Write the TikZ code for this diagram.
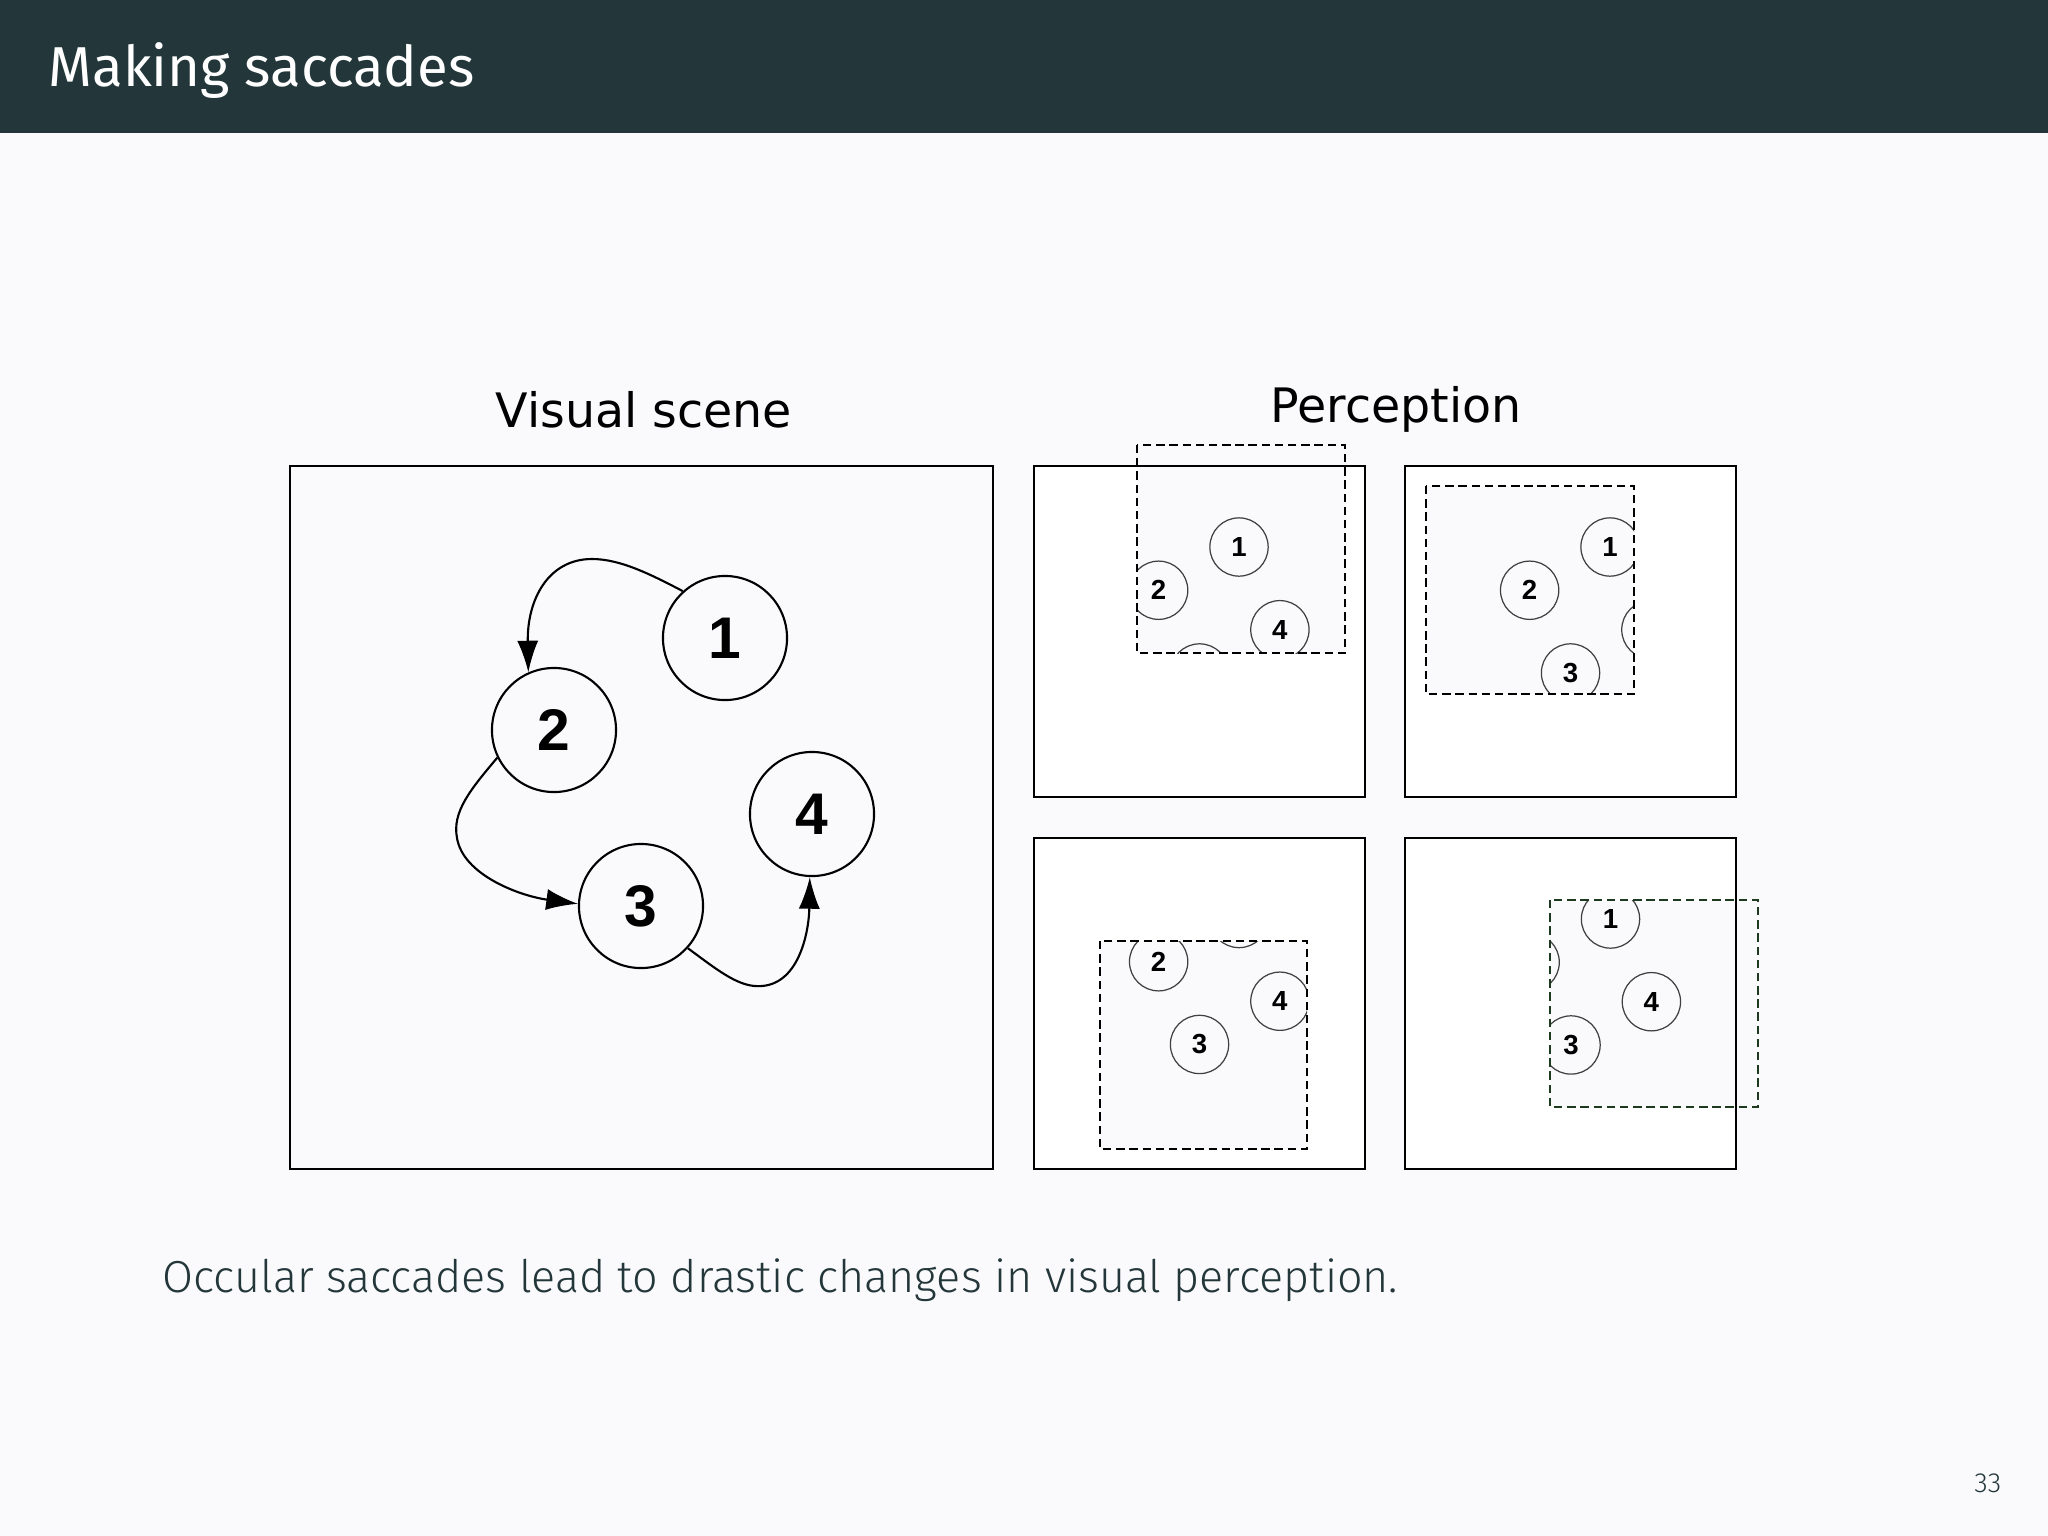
\documentclass[tikz,border=0pt]{standalone}
\usepackage{fontspec}
\usetikzlibrary{arrows.meta}
\newfontfamily\titlefont{Fira Sans}
\newfontfamily\bodyfont{Fira Sans Light}
\newfontfamily\scenefont{DejaVu Sans}
\newfontfamily\digitfont{Liberation Sans}
\definecolor{mDark}{HTML}{23373B}
\definecolor{pagebg}{HTML}{FAF9FC}
\definecolor{wingreen}{HTML}{1E3A1E}
\begin{document}
\begin{tikzpicture}[x=0.01cm,y=-0.01cm,
  frame/.style={draw=black, line width=0.75pt},
  bigcirc/.style={circle, draw=black, line width=0.6pt, minimum size=1.24cm, inner sep=0pt,
    font=\digitfont\bfseries\fontsize{16.7}{16.7}\selectfont},
  smallcirc/.style={circle, draw=black!75, line width=0.35pt, minimum size=1.24cm, inner sep=0pt,
    font=\digitfont\bfseries\fontsize{16.7}{16.7}\selectfont},
  window/.style={draw=black, line width=0.6pt, dash pattern=on 2.4pt off 1.35pt},
  saccade/.style={draw=black, line width=0.6pt, -{Latex[length=9pt,width=6pt]}},
  label/.style={anchor=base, inner sep=0pt, font=\scenefont\fontsize{13.5}{13.5}\selectfont}
]
\fill[pagebg] (0,0) rectangle (2048,1536);
\useasboundingbox (0,0) rectangle (2048,1536);
\fill[mDark] (0,0) rectangle (2048,133);
\node[anchor=base west, text=white, inner sep=0pt, font=\titlefont\fontsize{16.0}{16.0}\selectfont] (title) at (48,86) {Making saccades};

% visual scene
\node[label] (lscene) at (644,427) {Visual scene};
\node[label] (lperc) at (1396,422) {Perception};
\draw[frame] (290,466) rectangle (993,1169);
\node[bigcirc] (c1) at (725,638) {1};
\node[bigcirc] (c2) at (554,730) {2};
\node[bigcirc] (c3) at (641,906) {3};
\node[bigcirc] (c4) at (812,814) {4};
\draw[saccade] (c1.132) .. controls (650,574) and (620,559) .. (592,559)
  .. controls (548,559) and (527,600) .. (c2.114);
\draw[saccade] (c2.206) .. controls (470,790) and (452,812) .. (457,838)
  .. controls (463,875) and (520,896) .. (c3.178);
\draw[saccade] (c3.-42) .. controls (720,972) and (740,988) .. (762,986)
  .. controls (800,983) and (809,930) .. (c4.268);

% panel top-left
\fill[white] (1034,466) rectangle (1365,797);
\begin{scope}
  \clip (1137,445) rectangle (1345,653);
  \fill[pagebg] (1137,445) rectangle (1345,653);
  \begin{scope}[shift={(1239,547)}, scale=0.47, transform shape]
    \node[smallcirc] (tl1) at (0,0) {1};
    \node[smallcirc] (tl2) at (-171,92) {2};
    \node[smallcirc] (tl3) at (-84,268) {3};
    \node[smallcirc] (tl4) at (87,176) {4};
  \end{scope}
\end{scope}
\draw[frame] (1034,466) rectangle (1365,797);
\draw[window] (1137,445) rectangle (1345,653);

% panel top-right
\fill[white] (1405,466) rectangle (1736,797);
\begin{scope}
  \clip (1426,486) rectangle (1634,694);
  \fill[pagebg] (1426,486) rectangle (1634,694);
  \begin{scope}[shift={(1610,547)}, scale=0.47, transform shape]
    \node[smallcirc] (tr1) at (0,0) {1};
    \node[smallcirc] (tr2) at (-171,92) {2};
    \node[smallcirc] (tr3) at (-84,268) {3};
    \node[smallcirc] (tr4) at (87,176) {4};
  \end{scope}
\end{scope}
\draw[frame] (1405,466) rectangle (1736,797);
\draw[window] (1426,486) rectangle (1634,694);

% panel bottom-left
\fill[white] (1034,838) rectangle (1365,1169);
\begin{scope}
  \clip (1100,941) rectangle (1307,1149);
  \fill[pagebg] (1100,941) rectangle (1307,1149);
  \begin{scope}[shift={(1239,918.5)}, scale=0.47, transform shape]
    \node[smallcirc] (bl1) at (0,0) {1};
    \node[smallcirc] (bl2) at (-171,92) {2};
    \node[smallcirc] (bl3) at (-84,268) {3};
    \node[smallcirc] (bl4) at (87,176) {4};
  \end{scope}
\end{scope}
\draw[frame] (1034,838) rectangle (1365,1169);
\draw[window] (1100,941) rectangle (1307,1149);

% panel bottom-right
\fill[white] (1405,838) rectangle (1736,1169);
\begin{scope}
  \clip (1550,900) rectangle (1758,1107);
  \fill[pagebg] (1550,900) rectangle (1758,1107);
  \begin{scope}[shift={(1610.5,919)}, scale=0.47, transform shape]
    \node[smallcirc] (br1) at (0,0) {1};
    \node[smallcirc] (br2) at (-171,92) {2};
    \node[smallcirc] (br3) at (-84,268) {3};
    \node[smallcirc] (br4) at (87,176) {4};
  \end{scope}
\end{scope}
\draw[frame] (1405,838) rectangle (1736,1169);
\draw[window, draw=wingreen] (1550,900) rectangle (1758,1107);

\node[anchor=base west, inner sep=0pt, text=mDark, font=\bodyfont\fontsize{12.75}{12.75}\selectfont] (caption) at (162,1292) {Occular saccades lead to drastic changes in visual perception.};
\node[anchor=base east, inner sep=0pt, text=mDark, font=\bodyfont\fontsize{7.85}{7.85}\selectfont] (pagenum) at (2002,1492) {33};
\end{tikzpicture}
\end{document}
